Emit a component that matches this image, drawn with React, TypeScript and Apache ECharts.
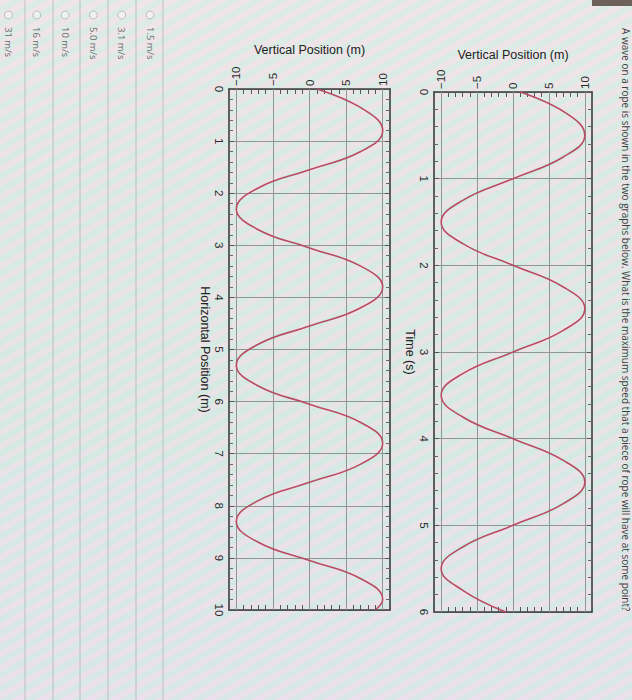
import React, { useEffect, useRef } from 'react';
import * as echarts from 'echarts';

const questionText =
  'A wave on a rope is shown in the two graphs below. What is the maximum speed that a piece of rope will have at some point?';
const answerChoices = ['1.5 m/s', '3.1 m/s', '5.0 m/s', '10 m/s', '16 m/s', '31 m/s'];

const displacementTicks = [-10, -5, 0, 5, 10];

const timeTitle = 'Time (s)';
const positionTitle = 'Horizontal Position (m)';
const verticalTitle = 'Vertical Position (m)';

// Graph 1: vertical position vs time
const timeValues = [0, 0.25, 0.5, 0.75, 1, 1.25, 1.5, 1.75, 2, 2.25, 2.5, 2.75, 3, 3.25, 3.5, 3.75, 4, 4.25, 4.5, 4.75, 5, 5.25, 5.5, 5.75, 6];
const timeDisplacement = [1, 7.5, 10, 7, 0, -7, -10, -7, 0, 7, 10, 7, 0, -7, -10, -7, 0, 7, 10, 7, 0, -7, -10, -7, -1];

// Graph 2: vertical position vs horizontal position
const horizPositions = [0, 0.4, 0.8, 1.2, 1.55, 1.9, 2.3, 2.7, 3.05, 3.4, 3.8, 4.2, 4.55, 4.9, 5.3, 5.7, 6.05, 6.4, 6.8, 7.2, 7.55, 7.9, 8.3, 8.7, 9.05, 9.4, 9.8, 10];
const horizDisplacement = [1, 7.5, 10, 7, 0, -7, -10, -7, 0, 7, 10, 7, 0, -7, -10, -7, 0, 7, 10, 7, 0, -7, -10, -7, 0, 7, 10, 9];

const W = 632;
const H = 700;
const AXIS_FONT = 'Liberation Sans, Arial, sans-serif';
const GRID_COLOR = '#8f9694';
const FRAME_COLOR = '#3c3c3c';
const CURVE_COLOR = '#b84c62';

function fmtDisp(v: number) {
  if (!displacementTicks.includes(v)) return '';
  return v < 0 ? '\u2212' + Math.abs(v) : String(v);
}

function dispAxis(gridIndex: number, position: string, showLabel: boolean, nameGap = 30) {
  return {
    type: 'value',
    gridIndex,
    position,
    min: -11,
    max: 11,
    interval: 1,
    axisLine: { show: true, onZero: false, lineStyle: { color: FRAME_COLOR, width: 1.6 } },
    axisTick: { show: true, inside: true, length: 5, lineStyle: { color: '#555', width: 1 } },
    axisLabel: {
      show: showLabel,
      rotate: -90,
      margin: 3,
      fontSize: 11.5,
      color: '#2a2a2a',
      fontFamily: AXIS_FONT,
      formatter: fmtDisp,
    },
    splitLine: { show: false },
    name: showLabel ? verticalTitle : '',
    nameLocation: 'middle',
    nameGap,
    nameTextStyle: { fontSize: 12.5, color: '#222', fontFamily: AXIS_FONT },
  };
}

function indepAxis(gridIndex: number, position: string, max: number, showLabel: boolean, name: string) {
  return {
    type: 'value',
    gridIndex,
    position,
    inverse: true,
    min: 0,
    max,
    interval: 1,
    axisLine: { show: true, onZero: false, lineStyle: { color: FRAME_COLOR, width: 1.6 } },
    axisTick: { show: true, inside: true, length: 5, lineStyle: { color: '#555', width: 1 } },
    minorTick: { show: true, splitNumber: 5, length: 4, lineStyle: { color: '#666', width: 1 } },
    axisLabel: {
      show: showLabel,
      rotate: -90,
      margin: 4,
      fontSize: 11.5,
      color: '#2a2a2a',
      fontFamily: AXIS_FONT,
    },
    splitLine: { show: showLabel, lineStyle: { color: GRID_COLOR, width: 1 } },
    name: showLabel ? name : '',
    nameLocation: 'middle',
    nameRotate: -90,
    nameGap: 18,
    nameTextStyle: { fontSize: 12.5, color: '#222', fontFamily: AXIS_FONT },
  };
}

export default function App() {
  const ref = useRef<HTMLDivElement>(null);

  useEffect(() => {
    if (!ref.current) return;
    const chart = echarts.init(ref.current, null, { renderer: 'svg', width: W, height: H });

    const gridLineMarks = {
      symbol: 'none',
      silent: true,
      label: { show: false },
      lineStyle: { color: GRID_COLOR, type: 'solid', width: 1 },
      data: displacementTicks.map((v) => ({ xAxis: v })),
    };

    const separators = [25, 53, 80, 108, 136, 163];
    const graphics: any[] = [];
    separators.forEach((x) => {
      graphics.push({
        type: 'line',
        shape: { x1: x, y1: 0, x2: x, y2: H },
        style: { stroke: 'rgba(170,178,176,0.7)', lineWidth: 1 },
        silent: true,
      });
    });
    answerChoices.forEach((txt, i) => {
      const cx = 150 - i * 28.3;
      graphics.push({
        type: 'circle',
        shape: { cx, cy: 15, r: 4 },
        style: { fill: 'rgba(255,255,255,0.4)', stroke: '#b9bdbc', lineWidth: 1 },
        silent: true,
      });
      graphics.push({
        type: 'text',
        x: cx,
        y: 27,
        rotation: -Math.PI / 2,
        style: {
          text: txt,
          fontSize: 9.5,
          fontFamily: 'Open Sans, sans-serif',
          fill: '#6a6d6c',
          textAlign: 'left',
          textVerticalAlign: 'middle',
        },
        silent: true,
      });
    });
    graphics.push({
      type: 'rect',
      shape: { x: 592, y: 0, width: 40, height: 6 },
      style: { fill: '#6d5f5a' },
      silent: true,
    });
    graphics.push({
      type: 'text',
      x: 626,
      y: 28,
      rotation: -Math.PI / 2,
      style: {
        text: questionText,
        fontSize: 10,
        fontFamily: 'Open Sans, sans-serif',
        fill: '#3e3e3e',
        textAlign: 'left',
        textVerticalAlign: 'middle',
      },
      silent: true,
    });

    chart.setOption({
      animation: false,
      backgroundColor: 'transparent',
      grid: [
        { left: 434, top: 92, width: 158, height: 520 },
        { left: 229, top: 89, width: 161, height: 521 },
      ],
      xAxis: [
        dispAxis(0, 'top', true, 30),
        dispAxis(0, 'bottom', false),
        dispAxis(1, 'top', true, 33),
        dispAxis(1, 'bottom', false),
      ],
      yAxis: [
        indepAxis(0, 'left', 6, true, timeTitle),
        indepAxis(0, 'right', 6, false, timeTitle),
        indepAxis(1, 'left', 10, true, positionTitle),
        indepAxis(1, 'right', 10, false, positionTitle),
      ],
      series: [
        {
          type: 'line',
          xAxisIndex: 0,
          yAxisIndex: 0,
          data: [],
          z: 1,
          markLine: gridLineMarks,
        },
        {
          type: 'line',
          xAxisIndex: 2,
          yAxisIndex: 2,
          data: [],
          z: 1,
          markLine: gridLineMarks,
        },
        {
          type: 'line',
          xAxisIndex: 0,
          yAxisIndex: 0,
          z: 5,
          smooth: 0.45,
          showSymbol: false,
          lineStyle: { color: CURVE_COLOR, width: 1.6 },
          data: timeDisplacement.map((v, i) => [v, timeValues[i]]),
        },
        {
          type: 'line',
          xAxisIndex: 2,
          yAxisIndex: 2,
          z: 5,
          smooth: 0.45,
          showSymbol: false,
          lineStyle: { color: CURVE_COLOR, width: 1.6 },
          data: horizDisplacement.map((v, i) => [v, horizPositions[i]]),
        },
      ],
      graphic: graphics,
    });

    return () => chart.dispose();
  }, []);

  return (
    <div
      ref={ref}
      style={{
        position: 'fixed',
        left: 0,
        top: 0,
        width: W,
        height: H,
        background:
          'repeating-linear-gradient(150deg, rgba(255,200,222,0.22) 0px, rgba(255,200,222,0.22) 6px, rgba(175,230,212,0.25) 6px, rgba(175,230,212,0.25) 12px), linear-gradient(180deg, #ecedeb 0%, #e6ebe9 25%, #e2ebe8 60%, #e6e7ef 100%)',
      }}
    />
  );
}
